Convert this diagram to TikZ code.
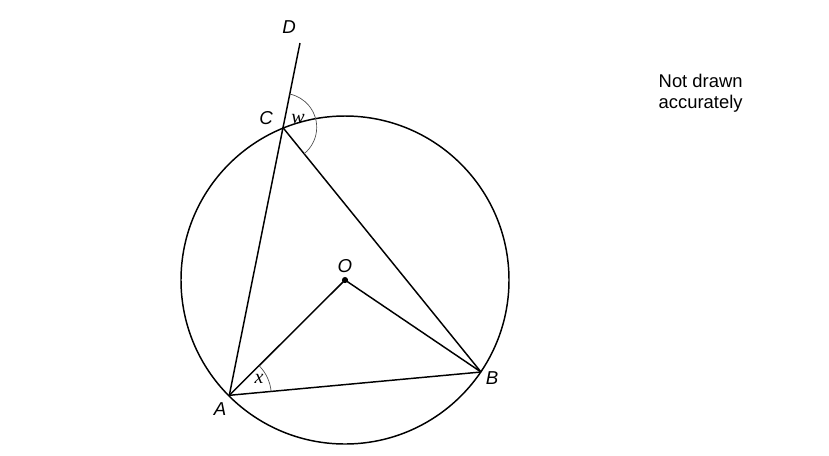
\documentclass[tikz,border=0pt]{standalone}
\usepackage{fontspec}
\setmainfont{Liberation Sans}
\newfontfamily\timesfont{Liberation Serif}
\usetikzlibrary{angles}
\begin{document}
\begin{tikzpicture}[x=0.75pt,y=-0.75pt,
	main_line/.style={draw,line width=1.1pt},
	ang_arc/.style={draw=black!70,line width=0.5pt},
	pt_label/.style={font=\fontsize{14}{16}\selectfont\itshape},
	ang_label/.style={font=\fontsize{15}{17}\selectfont\timesfont\itshape},
	note_text/.style={font=\fontsize{13.8}{15.5}\selectfont,align=left}]
	
	\fill[white] (0,0) rectangle (829,455);
	
	\coordinate (O) at (345,280);
	\coordinate (A) at (229.3,395.3);
	\coordinate (B) at (481,372);
	\coordinate (C) at (282.7,127.3);
	\coordinate (D) at (300,43);
	
	\draw[main_line] (O) circle (123pt);
	\draw[main_line] (A) -- (D);
	\draw[main_line] (C) -- (B);
	\draw[main_line] (A) -- (B);
	\draw[main_line] (A) -- (O);
	\draw[main_line] (O) -- (B);
	\fill (O) circle (2.3pt);
	
	\pic[ang_arc,angle radius=25.5pt] {angle = B--C--D};
	\pic[ang_arc,angle radius=31.5pt] {angle = B--A--O};
	
	\node[pt_label] (lD) at (289,27) {D};
	\node[pt_label] (lC) at (266,118) {C};
	\node[pt_label] (lO) at (345,266) {O};
	\node[pt_label] (lA) at (220,409) {A};
	\node[pt_label] (lB) at (492,378) {B};
	\node[ang_label] (w) at (298,119) {w};
	\node[ang_label] (x) at (259,379) {x};
	
	\node[note_text,anchor=west] (note) at (654,93) {Not drawn\\accurately};
\end{tikzpicture}
\end{document}
